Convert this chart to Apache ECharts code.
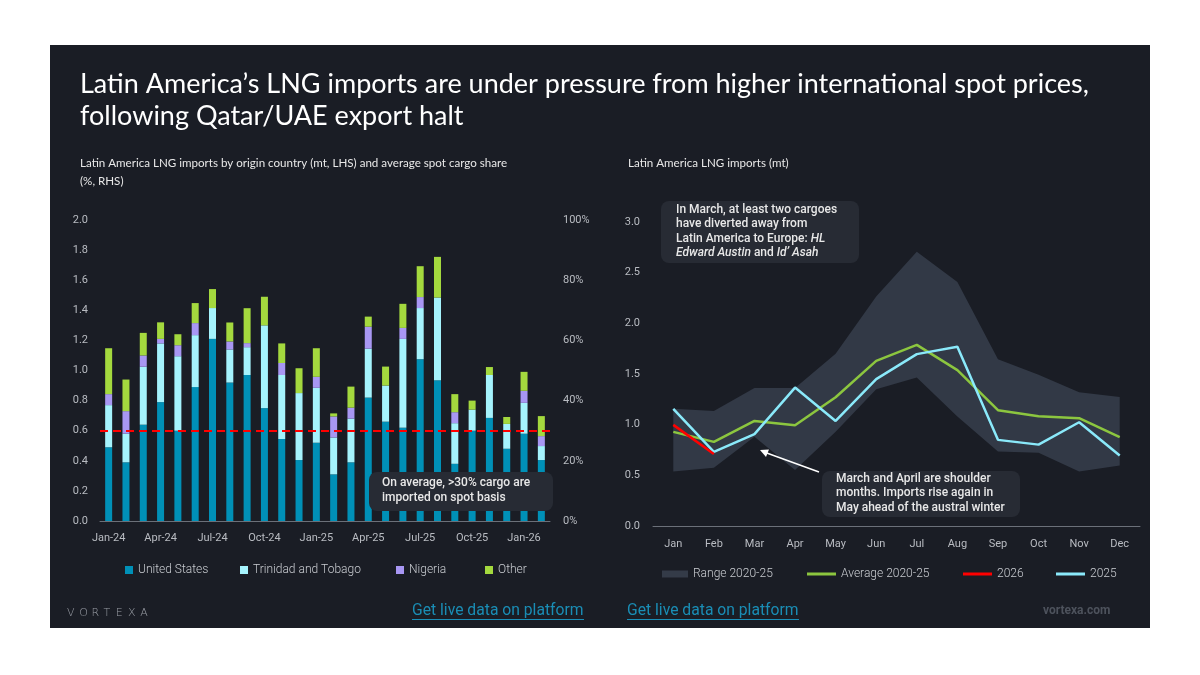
<!DOCTYPE html>
<html><head><meta charset="utf-8">
<script src="https://cdn.jsdelivr.net/npm/echarts@6/dist/echarts.min.js"></script>
<style>html,body{margin:0;padding:0;background:#fff;}#c{position:absolute;left:50px;top:45px;width:1100px;height:583px;}</style>
</head><body><div id="c"></div>
<script>
// ---------- Left chart data (mt) ----------
const months = ['Jan-24','Feb-24','Mar-24','Apr-24','May-24','Jun-24','Jul-24','Aug-24','Sep-24','Oct-24','Nov-24','Dec-24',
  'Jan-25','Feb-25','Mar-25','Apr-25','May-25','Jun-25','Jul-25','Aug-25','Sep-25','Oct-25','Nov-25','Dec-25','Jan-26','Feb-26'];
const usImports    = [0.49,0.39,0.64,0.79,0.60,0.89,1.21,0.92,0.97,0.75,0.545,0.405,0.52,0.31,0.39,0.82,0.66,0.62,1.075,0.935,0.38,0.60,0.685,0.48,0.58,0.405];
const ttImports    = [0.28,0.19,0.385,0.39,0.495,0.345,0.205,0.22,0.185,0.55,0.425,0.445,0.365,0.245,0.29,0.325,0.24,0.59,0.34,0.55,0.27,0.14,0.285,0.165,0.205,0.093];
const ngImports    = [0.073,0.15,0.075,0.03,0.073,0.08,0,0.053,0.027,0,0.08,0,0.073,0.14,0.073,0.146,0,0.073,0.073,0,0.073,0,0,0,0.08,0.066];
const otherImports = [0.305,0.21,0.15,0.11,0.073,0.133,0.126,0.126,0.232,0.19,0.13,0.165,0.19,0.02,0.14,0.067,0.126,0.16,0.205,0.27,0.12,0.06,0.053,0.046,0.126,0.133];
const spotShareAvg = 30; // % (RHS)

// ---------- Right chart data (mt) ----------
const monthNames = ['Jan','Feb','Mar','Apr','May','Jun','Jul','Aug','Sep','Oct','Nov','Dec'];
const rangeLow  = [0.537,0.576,0.88,0.553,0.93,1.35,1.465,1.08,0.734,0.724,0.537,0.596];
const rangeHigh = [1.156,1.136,1.363,1.363,1.699,2.265,2.707,2.407,1.646,1.492,1.320,1.274];
const avg2020_25 = [0.929,0.830,1.037,0.994,1.271,1.630,1.788,1.538,1.143,1.083,1.064,0.876];
const y2026 = [0.998,0.711];
const y2025 = [1.156,0.731,0.906,1.366,1.037,1.449,1.696,1.768,0.850,0.803,1.024,0.695];

// ---------- styling ----------
const BG = '#1a1d25';
const AX = '#6b7079';
const LBL = '#b9bcc2';
const FONT = 'Roboto';
const OX = 50, OY = 45; // container offset in page
const X = v => v - OX, Y = v => v - OY;

const chart = echarts.init(document.getElementById('c'));
const rangeDiff = rangeHigh.map((h, i) => +(h - rangeLow[i]).toFixed(3));

const vortexaLetters = 'VORTEXA'.split('').map((ch, i) => ({
  type: 'text', x: X(67) + i * 12.2, y: Y(613), z: 100,
  style: { text: ch, fill: '#9a9ea6', fontSize: 11, fontFamily: 'DejaVu Sans', fontWeight: 300, verticalAlign: 'middle' }
}));

const legTxt = { color: '#c9ccd1', fontSize: 12, fontFamily: FONT, fontWeight: 300 };
const LINE_ICON = 'path://M0 0H29V3H0Z';
function leg(name, x, y, icon, w, h) {
  return { left: X(x), top: Y(y), itemWidth: w, itemHeight: h, icon: icon, symbolKeepAspect: true,
    textStyle: legTxt, data: [name] };
}

const option = {
  backgroundColor: BG,
  animation: false,
  textStyle: { fontFamily: FONT },
  grid: [
    { left: X(100), top: Y(220), width: 450, height: 301 },
    { left: X(653), top: Y(222), width: 487, height: 304 }
  ],
  xAxis: [
    { type: 'category', gridIndex: 0, data: months, boundaryGap: true,
      axisLine: { lineStyle: { color: AX } },
      axisTick: { interval: 2, length: 4, lineStyle: { color: AX } },
      axisLabel: { interval: 2, color: LBL, fontSize: 11, margin: 12, fontFamily: FONT } },
    { type: 'category', gridIndex: 1, data: monthNames, boundaryGap: true,
      axisLine: { lineStyle: { color: AX } },
      axisTick: { length: 4, lineStyle: { color: AX } },
      axisLabel: { color: LBL, fontSize: 11, margin: 13, fontFamily: FONT } }
  ],
  yAxis: [
    { type: 'value', gridIndex: 0, min: 0, max: 2, interval: 0.2,
      splitLine: { show: false }, axisLine: { show: false }, axisTick: { show: false },
      axisLabel: { color: LBL, fontSize: 11, margin: 12, formatter: v => v.toFixed(1) } },
    { type: 'value', gridIndex: 0, min: 0, max: 100, interval: 20, position: 'right',
      splitLine: { show: false }, axisLine: { show: false }, axisTick: { show: false },
      axisLabel: { color: LBL, fontSize: 11, margin: 13, formatter: '{value}%' } },
    { type: 'value', gridIndex: 1, min: 0, max: 3, interval: 0.5,
      splitLine: { show: false }, axisLine: { show: false }, axisTick: { show: false },
      axisLabel: { color: LBL, fontSize: 11, margin: 13, formatter: v => v.toFixed(1) } }
  ],
  legend: [
    leg('United States', 120, 559, 'rect', 8, 8),
    leg('Trinidad and Tobago', 235, 559, 'rect', 8, 8),
    leg('Nigeria', 391, 559, 'rect', 8, 8),
    leg('Other', 480, 559, 'rect', 8, 8),
    leg('Range 2020-25', 657, 563, 'rect', 26, 7),
    leg('Average 2020-25', 802, 563, LINE_ICON, 29, 7),
    leg('2026', 958, 563, LINE_ICON, 29, 7),
    leg('2025', 1051, 563, LINE_ICON, 29, 7)
  ],
  series: [
    { name: 'United States', type: 'bar', stack: 'imp', xAxisIndex: 0, yAxisIndex: 0, barWidth: 7,
      itemStyle: { color: '#0090b7' }, data: usImports },
    { name: 'Trinidad and Tobago', type: 'bar', stack: 'imp', xAxisIndex: 0, yAxisIndex: 0, barWidth: 7,
      itemStyle: { color: '#a5f3fd' }, data: ttImports },
    { name: 'Nigeria', type: 'bar', stack: 'imp', xAxisIndex: 0, yAxisIndex: 0, barWidth: 7,
      itemStyle: { color: '#a897f3' }, data: ngImports },
    { name: 'Other', type: 'bar', stack: 'imp', xAxisIndex: 0, yAxisIndex: 0, barWidth: 7,
      itemStyle: { color: '#a4d93e' }, data: otherImports },
    { name: 'Spot share', type: 'line', xAxisIndex: 0, yAxisIndex: 1, data: [], z: 5,
      markLine: { silent: true, symbol: ['none', 'none'], label: { show: false },
        lineStyle: { color: '#ff0000', type: [8, 5], width: 2 },
        data: [{ yAxis: spotShareAvg }] } },
    { name: 'rangeBase', type: 'line', xAxisIndex: 1, yAxisIndex: 2, stack: 'range',
      symbol: 'none', lineStyle: { opacity: 0 }, data: rangeLow, silent: true },
    { name: 'Range 2020-25', type: 'line', xAxisIndex: 1, yAxisIndex: 2, stack: 'range',
      symbol: 'none', lineStyle: { opacity: 0, width: 0 }, itemStyle: { color: '#343b48' },
      areaStyle: { color: '#323946', opacity: 1 }, data: rangeDiff, silent: true },
    { name: 'Average 2020-25', type: 'line', xAxisIndex: 1, yAxisIndex: 2, symbol: 'none', z: 3,
      itemStyle: { color: '#8cc63f' }, lineStyle: { color: '#8cc63f', width: 2.5 }, data: avg2020_25 },
    { name: '2026', type: 'line', xAxisIndex: 1, yAxisIndex: 2, symbol: 'none', z: 5,
      itemStyle: { color: '#ff0000' }, lineStyle: { color: '#ff0000', width: 2.5 }, data: y2026 },
    { name: '2025', type: 'line', xAxisIndex: 1, yAxisIndex: 2, symbol: 'none', z: 4,
      itemStyle: { color: '#8ae9fa' }, lineStyle: { color: '#8ae9fa', width: 2.5 }, data: y2025 }
  ],
  graphic: [
    { type: 'text', x: X(80), y: Y(68), z: 100,
      style: { text: 'Latin America\u2019s LNG imports are under pressure from higher international spot prices,\nfollowing Qatar/UAE export halt',
        fill: '#ffffff', fontSize: 27, lineHeight: 32, fontFamily: 'Lato', verticalAlign: 'top' } },
    { type: 'text', x: X(80), y: Y(154), z: 100,
      style: { text: 'Latin America LNG imports by origin country (mt, LHS) and average spot cargo share\n(%, RHS)',
        fill: '#e8e8e8', fontSize: 11.6, lineHeight: 18, fontFamily: 'Lato', verticalAlign: 'top' } },
    { type: 'text', x: X(628), y: Y(154), z: 100,
      style: { text: 'Latin America LNG imports (mt)', fill: '#e8e8e8', fontSize: 11.6, lineHeight: 18, fontFamily: 'Lato', verticalAlign: 'top' } },
    // left annotation box
    { type: 'rect', z: 100, shape: { x: X(369), y: Y(472), width: 184, height: 39, r: 8 }, style: { fill: '#272b34' } },
    { type: 'text', z: 101, x: X(382), y: Y(475.5), style: { text: 'On average, >30% cargo are\nimported on spot basis',
        fill: '#e8e8e8', fontSize: 12, fontWeight: 500, fontFamily: FONT, lineHeight: 15, verticalAlign: 'top' } },
    // right annotation box 1
    { type: 'rect', z: 100, shape: { x: X(661), y: Y(201), width: 198, height: 62, r: 8 }, style: { fill: '#272b34' } },
    { type: 'text', z: 101, x: X(676), y: Y(202.5), style: {
        text: 'In March, at least two cargoes\nhave diverted away from\nLatin America to Europe: {i|HL}\n{i|Edward Austin} and {i|Id\u2019 Asah}',
        fill: '#e8e8e8', fontSize: 12, fontWeight: 500, fontFamily: FONT, lineHeight: 14.5, verticalAlign: 'top',
        rich: { i: { fontStyle: 'italic', fontSize: 12, fontWeight: 500, fontFamily: FONT, lineHeight: 14.5, fill: '#e8e8e8' } } } },
    // right annotation box 2
    { type: 'rect', z: 100, shape: { x: X(822), y: Y(471), width: 198, height: 46, r: 8 }, style: { fill: '#272b34' } },
    { type: 'text', z: 101, x: X(836), y: Y(471.5), style: {
        text: 'March and April are shoulder\nmonths. Imports rise again in\nMay ahead of the austral winter',
        fill: '#e8e8e8', fontSize: 12, fontWeight: 500, fontFamily: FONT, lineHeight: 14.5, verticalAlign: 'top' } },
    // arrow
    { type: 'line', z: 100, shape: { x1: X(819), y1: Y(472), x2: X(764), y2: Y(452) }, style: { stroke: '#ffffff', lineWidth: 1.5 } },
    { type: 'polygon', z: 100, shape: { points: [[X(760), Y(450)], [X(769), Y(449.5)], [X(766), Y(457)]] }, style: { fill: '#ffffff' } },
    // footer
    ...vortexaLetters,
    { type: 'text', z: 100, x: X(412), y: Y(611), style: { text: 'Get live data on platform', fill: '#1a8db5', fontSize: 15.7, fontFamily: FONT, verticalAlign: 'middle' } },
    { type: 'line', z: 100, shape: { x1: X(412), y1: Y(619.5), x2: X(584), y2: Y(619.5) }, style: { stroke: '#1a8db5', lineWidth: 1 } },
    { type: 'text', z: 100, x: X(627), y: Y(611), style: { text: 'Get live data on platform', fill: '#1a8db5', fontSize: 15.7, fontFamily: FONT, verticalAlign: 'middle' } },
    { type: 'line', z: 100, shape: { x1: X(627), y1: Y(619.5), x2: X(799), y2: Y(619.5) }, style: { stroke: '#1a8db5', lineWidth: 1 } },
    { type: 'text', z: 100, x: X(1043), y: Y(611), style: { text: 'vortexa.com', fill: '#4d525c', fontSize: 12, fontWeight: 'bold', fontFamily: FONT, verticalAlign: 'middle' } }
  ]
};
chart.setOption(option);
</script>
</body></html>
